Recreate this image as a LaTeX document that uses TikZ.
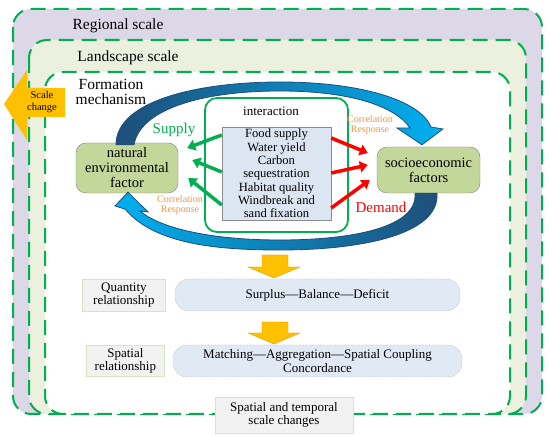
\documentclass[tikz,border=0pt]{standalone}
\usepackage{fontspec}
\setmainfont{Liberation Serif}
\usetikzlibrary{shapes.geometric, arrows.meta, positioning}
\definecolor{regionfill}{RGB}{221,216,232}
\definecolor{landfill}{RGB}{235,241,222}
\definecolor{dashgreen}{RGB}{0,176,80}
\definecolor{factorfill}{RGB}{196,215,155}
\definecolor{servicefill}{RGB}{220,230,242}
\definecolor{resultfill}{RGB}{225,233,245}
\definecolor{relfill}{RGB}{242,242,242}
\definecolor{relborder}{RGB}{215,228,189}
\definecolor{arcdark}{RGB}{31,78,121}
\definecolor{arclight}{RGB}{0,176,240}
\definecolor{scaleyellow}{RGB}{255,192,0}
\definecolor{corrorange}{RGB}{247,150,70}
\tikzset{
	scaleframe/.style={
		draw=dashgreen,
		line width=2pt,
		dash pattern=on 15pt off 8pt,
		rounded corners=18pt
	},
	framelabel/.style={
		font=\fontsize{15.5}{15}\selectfont,
		align=center
	},
	factor/.style={
		rectangle,
		rounded corners=10pt,
		text centered,
		align=center,
		draw=black!50,
		fill=factorfill,
		font=\fontsize{14.5}{15}\selectfont
	},
	service/.style={
		rectangle,
		minimum width=109pt,
		minimum height=93pt,
		text centered,
		align=center,
		draw=black!45,
		fill=servicefill,
		inner sep=1pt,
		font=\fontsize{12.6}{13.3}\selectfont
	},
	interbox/.style={
		rectangle,
		rounded corners=12pt,
		draw=dashgreen,
		line width=1.8pt
	},
	relation/.style={
		rectangle,
		text centered,
		align=center,
		draw=relborder,
		fill=relfill,
		line width=0.8pt,
		inner sep=1pt,
		font=\fontsize{13}{13.5}\selectfont
	},
	result/.style={
		rectangle,
		rounded corners=14pt,
		minimum height=32pt,
		text centered,
		align=center,
		draw=black!45,
		densely dotted,
		fill=resultfill,
		font=\fontsize{13}{13.5}\selectfont
	},
	corr/.style={
		text=corrorange,
		align=center,
		font=\fontsize{10}{10}\selectfont
	},
	supply/.style={
		draw=dashgreen,
		line width=3.5pt,
		-{Triangle[length=8pt,width=11pt]}
	},
	demand/.style={
		draw=red,
		line width=3.5pt,
		-{Triangle[length=8pt,width=11pt]}
	},
	bigarrow/.style={
		draw=arcdark,
		line width=0.8pt
	},
	downarrow/.style={
		fill=scaleyellow,
		draw=scaleyellow!85!black,
		line width=0.4pt
	}
}

\begin{document}
\begin{tikzpicture}[x=1pt, y=-1pt]
	\useasboundingbox (0,0) rectangle (550,435);
	% scale frames
	\draw [scaleframe, fill=regionfill] (13,9) rectangle (542,414);
	\draw [scaleframe, fill=landfill] (29,40) rectangle (526,414);
	\draw [scaleframe, fill=white] (45,72) rectangle (510,414);
	\node (regional) [framelabel] at (118,26) {Regional scale};
	\node (landscape) [framelabel] at (128,58) {Landscape scale};
	\node (formation) [framelabel] at (111,92) {Formation\\mechanism};
	
	% scale change arrow
	\path [fill=scaleyellow] (4,104) -- (27,70) -- (27,88) -- (65,88) -- (65,117) -- (27,117) -- (27,140) -- cycle;
	\node (scalechange) [align=center, font=\fontsize{10.5}{12}\selectfont] at (42,102) {Scale\\change};
	
	\node (natural) [factor, minimum width=102pt, minimum height=50pt] at (127,168) {natural\\environmental\\factor};
	\node (socio) [factor, minimum width=103pt, minimum height=46pt] at (428.5,170) {socioeconomic\\factors};
	
	% circular arrows
	\path [bigarrow, left color=arcdark, right color=arclight]
		([xshift=-11pt,yshift=-2pt]natural.north) .. controls (116,100) and (200,82) .. (280,82)
		.. controls (360,82) and (420,100) .. (431,127) -- (443,129)
		-- ([xshift=-6.5pt,yshift=2pt]socio.north) -- (397,128) -- (410,128)
		.. controls (395,106) and (350,91) .. (280,91)
		.. controls (200,91) and (140,110) .. ([xshift=7pt,yshift=-2pt]natural.north) -- cycle;
	\path [bigarrow, left color=arclight, right color=arcdark]
		([xshift=-13.5pt]socio.south) .. controls (418,228) and (350,240) .. (280,240)
		.. controls (210,240) and (160,228) .. (140,211) -- (148,212)
		-- ([xshift=1pt,yshift=1pt]natural.south) -- (115,206) -- (125,209)
		.. controls (155,245) and (220,250) .. (280,250)
		.. controls (360,250) and (440,235) .. ([xshift=8.5pt]socio.south) -- cycle;
	
	\node (interframe) [interbox, minimum width=143pt, minimum height=134pt] at (276.5,165) {};
	\node (interlabel) [font=\fontsize{13}{13}\selectfont] at (271,111) {interaction};
	\node (services) [service] at (276.5,173.5) {Food supply\\Water yield\\Carbon\\sequestration\\Habitat quality\\Windbreak and\\sand fixation};
	
	\draw [supply] ([yshift=38.5pt]services.west) -- ([xshift=9pt,yshift=20pt]natural.east);
	\draw [supply] ([yshift=1.5pt]services.west) -- ([xshift=14pt,yshift=8pt]natural.east);
	\draw [supply] ([yshift=-31.5pt]services.west) -- ([xshift=10pt,yshift=-10pt]natural.east);
	\draw [demand] ([yshift=35.5pt]services.east) -- ([xshift=-9pt,yshift=17pt]socio.west);
	\draw [demand] ([yshift=0.5pt]services.east) -- ([xshift=-9pt,yshift=5pt]socio.west);
	\draw [demand] ([yshift=-34.5pt]services.east) -- ([xshift=-7pt,yshift=-10pt]socio.west);
	
	\node (supplylabel) [text=dashgreen, font=\fontsize{15}{15}\selectfont] at (174,130) {Supply};
	\node (demandlabel) [text=red, font=\fontsize{15}{15}\selectfont] at (381,207) {Demand};
	\node (corrleft) [corr] at (180,205) {Correlation\\Response};
	\node (corrright) [corr] at (370,125) {Correlation\\Response};
	
	% relationships
	\path [downarrow] (262,255) -- (288,255) -- (288,267) -- (300,267) -- (274,278) -- (248,267) -- (262,267) -- cycle;
	\node (surplus) [result, minimum width=285pt] at (317.5,295) {Surplus—Balance—Deficit};
	\node (quantity) [relation, minimum width=83pt, minimum height=32pt, left=9pt of surplus] {Quantity\\relationship};
	\path [downarrow] (262,322) -- (288,322) -- (288,333) -- (300,333) -- (274,344) -- (248,333) -- (262,333) -- cycle;
	\node (matching) [result, minimum width=289pt] at (317.5,361) {Matching—Aggregation—Spatial Coupling\\Concordance};
	\node (spatial) [relation, minimum width=78pt, minimum height=31pt, left=8pt of matching] {Spatial\\relationship};
	
	\node (changes) [relation, minimum width=138pt, minimum height=36pt, font=\fontsize{13}{12.5}\selectfont] at (284,415) {Spatial and temporal\\scale changes};
\end{tikzpicture}
\end{document}
